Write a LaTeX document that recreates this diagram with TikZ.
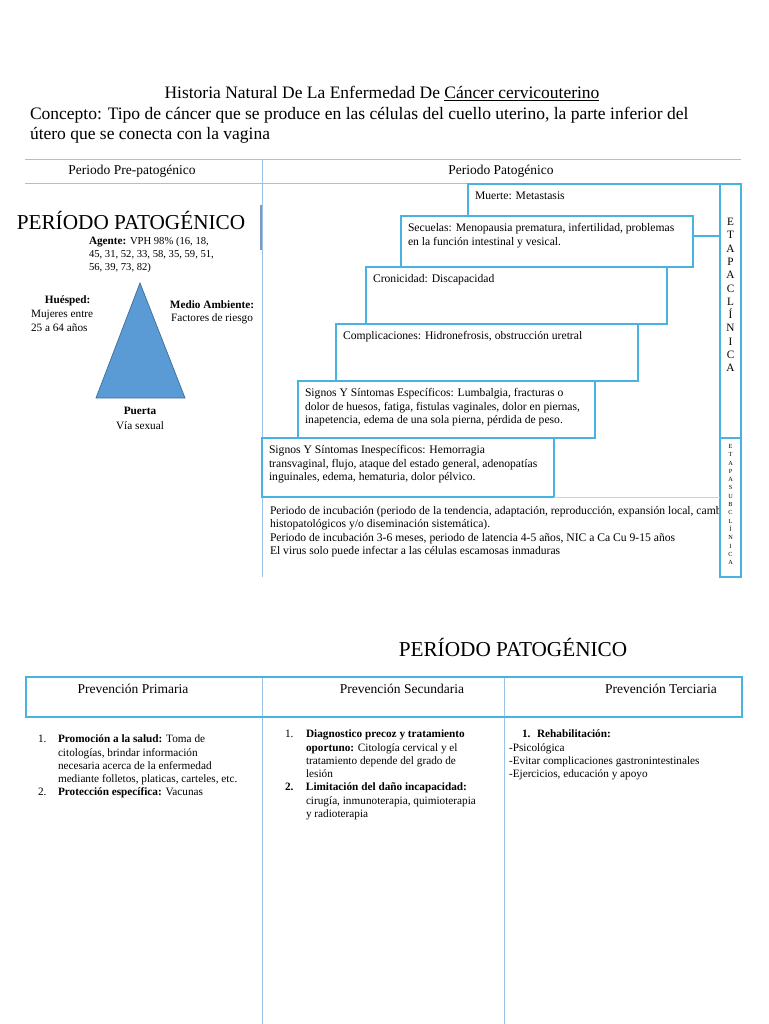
\documentclass[tikz,border=0pt]{standalone}
\usepackage{fontspec}
\setmainfont{Liberation Serif}
\usetikzlibrary{positioning}
\definecolor{tableblue}{RGB}{157,195,230}
\definecolor{boxblue}{RGB}{72,178,226}
\definecolor{triblue}{RGB}{91,155,213}
\definecolor{triedge}{RGB}{65,113,156}
\definecolor{faintgrey}{RGB}{205,210,215}
\newcommand{\fs}[2]{\fontsize{#1}{#2}\selectfont}
\newcommand{\numlab}[1]{\makebox[16pt][l]{#1}}

\begin{document}
\begin{tikzpicture}[x=0.8pt, y=-0.8pt,
    every node/.style={inner sep=0pt, outer sep=0pt},
    tableline/.style={draw=tableblue, line width=0.8pt},
    boxsize/.style 2 args={minimum width=#1*0.8pt, minimum height=#2*0.8pt},
    stairbox/.style={draw=boxblue, fill=white, line width=1.2pt, anchor=north west},
    boxtext/.style={align=left, font=\fs{9.3}{10.8}},
    header/.style={font=\fs{10.8}{13}},
    bigtitle/.style={font=\fs{17}{20}},
    listtext/.style={anchor=north west, align=left, font=\fs{9}{10.6}}]
  \fill[white] (0,0) rectangle (768,1024);
  \useasboundingbox (0,0) rectangle (768,1024);

  % titulo y concepto
  \node[font=\fs{14}{16}] (title) at (382,94) {Historia Natural De La Enfermedad De \underline{Cáncer cervicouterino}};
  \node[anchor=north west, align=left, font=\fs{14}{16}] (concepto) at (30,107) {Concepto: Tipo de cáncer que se produce en las células del cuello uterino, la parte inferior del\\útero que se conecta con la vagina};

  % tabla superior
  \draw[tableline] (25,160) -- (741,160);
  \draw[tableline] (25,184) -- (741,184);
  \draw[tableline] (262,160) -- (262,577);
  \draw[draw=triedge!70, line width=0.9pt] (261,205) -- (261,250);
  \node[header] (prepat) at (132,171) {Periodo Pre-patogénico};
  \node[header] (pat) at (501,171) {Periodo Patogénico};

  % triada ecologica
  \node[bigtitle] (periodoleft) at (131,220) {PERÍODO PATOGÉNICO};
  \node[anchor=north west, align=left, font=\fs{8.5}{10.4}] (agente) at (89,237.5) {{\fs{9}{10.4}\textbf{Agente:}} VPH 98\% (16, 18,\\45, 31, 52, 33, 58, 35, 59, 51,\\56, 39, 73, 82)};
  \coordinate (apex) at (140,283);
  \coordinate (baseL) at (96,398);
  \coordinate (baseR) at (185,398);
  \draw[fill=triblue, draw=triedge, line width=0.6pt] (apex) -- (baseL) -- (baseR) -- cycle;
  \node[anchor=north west, align=left, font=\fs{9}{11.2}] (huesped) at (31,296) {\hspace*{11pt}\textbf{Huésped:}\\Mujeres entre\\25 a 64 años};
  \node[align=center, font=\fs{9}{10.4}] (medio) at (212,312) {\textbf{Medio Ambiente:}\\Factores de riesgo};
  \node[align=center, font=\fs{9}{12}] (puerta) at (140,418) {\textbf{Puerta}\\Vía sexual};

  % escalera del periodo patogenico
  \node[stairbox, boxsize={252}{52}] (muerte) at (468,184) {};
  \node[stairbox, boxsize={292}{51}] (secuelas) at (401,216) {};
  \node[stairbox, boxsize={301}{57}] (cronicidad) at (366,267) {};
  \node[stairbox, boxsize={302}{57}] (complicaciones) at (336,324) {};
  \node[stairbox, boxsize={297}{57}] (especificos) at (298,381) {};
  \node[stairbox, boxsize={292}{59}] (inespecificos) at (262,438) {};

  \node[boxtext, below right=6pt and 5.6pt of muerte.north west] (muertetxt) {Muerte: Metastasis};
  \node[boxtext, below right=6pt and 5.6pt of secuelas.north west] (secuelastxt) {Secuelas: Menopausia prematura, infertilidad, problemas\\en la función intestinal y vesical.};
  \node[boxtext, below right=6pt and 5.6pt of cronicidad.north west] (cronicidadtxt) {Cronicidad: Discapacidad};
  \node[boxtext, below right=6pt and 5.6pt of complicaciones.north west] (complicacionestxt) {Complicaciones: Hidronefrosis, obstrucción uretral};
  \node[boxtext, below right=6pt and 5.6pt of especificos.north west] (especificostxt) {Signos Y Síntomas Específicos: Lumbalgia, fracturas o\\dolor de huesos, fatiga, fistulas vaginales, dolor en piernas,\\inapetencia, edema de una sola pierna, pérdida de peso.};
  \node[boxtext, below right=6pt and 5.6pt of inespecificos.north west] (inespecificostxt) {Signos Y Síntomas Inespecíficos: Hemorragia\\transvaginal, flujo, ataque del estado general, adenopatías\\inguinales, edema, hematuria, dolor pélvico.};

  \begin{scope}
    \clip (262,497) rectangle (719,577);
    \node[boxtext, anchor=north west] (incubacion) at (270,506) {Periodo de incubación (periodo de la tendencia, adaptación, reproducción, expansión local, camb\\histopatológicos y/o diseminación sistemática).\\Periodo de incubación 3-6 meses, periodo de latencia 4-5 años, NIC a Ca Cu 9-15 años\\El virus solo puede infectar a las células escamosas inmaduras};
  \end{scope}

  % etapas clinica y subclinica
  \node[stairbox, boxsize={21}{254}] (clinica) at (720,184) {};
  \node[stairbox, boxsize={21}{139}] (subclinica) at (720,438) {};
  \draw[draw=faintgrey, line width=0.8pt] (inespecificos.south east) -- (inespecificos.south east -| subclinica.west);
  \node[align=center, font=\fs{9}{10.64}] (clinicatxt) at (730.5,295) {E\\T\\A\\P\\A\\C\\L\\Í\\N\\I\\C\\A};
  \node[align=center, font=\fs{5}{6.64}] (subclinicatxt) at (730.5,504.5) {E\\T\\A\\P\\A\\S\\U\\B\\C\\L\\Í\\N\\I\\C\\A};

  % prevencion
  \node[bigtitle] (periodobottom) at (513,647) {PERÍODO PATOGÉNICO};
  \draw[tableline] (262,677) -- (262,1024);
  \draw[tableline] (504,677) -- (504,1024);
  \node[draw=boxblue, line width=1.6pt, anchor=north west, boxsize={716}{40}] (prevbox) at (26,677) {};
  \node[header] (primaria) at (133,689) {Prevención Primaria};
  \node[header] (secundaria) at (402,689) {Prevención Secundaria};
  \node[header] (terciaria) at (661,689) {Prevención Terciaria};

  \node[listtext] (primlist) at (38,735) {\numlab{1.}\textbf{Promoción a la salud:} Toma de\\
    \hspace*{16pt}citologías, brindar información\\
    \hspace*{16pt}necesaria acerca de la enfermedad\\
    \hspace*{16pt}mediante folletos, platicas, carteles, etc.\\
    \numlab{2.}\textbf{Protección específica:} Vacunas};
  \node[listtext] (seclist) at (285,730) {\makebox[16.8pt][l]{1.}\textbf{Diagnostico precoz y tratamiento}\\
    \hspace*{16.8pt}\textbf{oportuno:} Citología cervical y el\\
    \hspace*{16.8pt}tratamiento depende del grado de\\
    \hspace*{16.8pt}lesión\\
    \makebox[16.8pt][l]{\textbf{2.}}\textbf{Limitación del daño incapacidad:}\\
    \hspace*{16.8pt}cirugía, inmunoterapia, quimioterapia\\
    \hspace*{16.8pt}y radioterapia};
  \node[listtext] (terlist) at (509,730) {\hspace*{10.4pt}\makebox[12pt][l]{\textbf{1.}}\textbf{Rehabilitación:}\\
    -Psicológica\\
    -Evitar complicaciones gastronintestinales\\
    -Ejercicios, educación y apoyo};
\end{tikzpicture}
\end{document}
